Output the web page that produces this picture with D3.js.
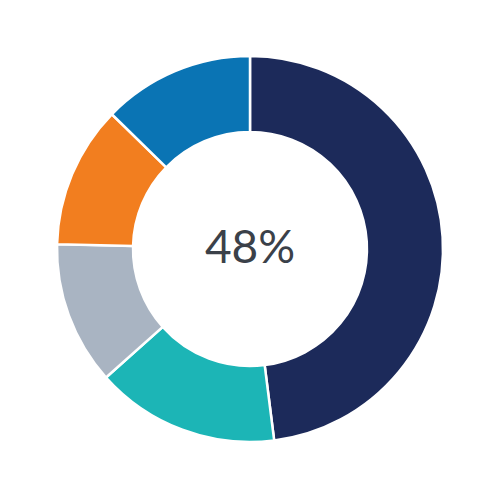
<!DOCTYPE html>
<html>
<head>
<meta charset="utf-8">
<script src="https://cdn.jsdelivr.net/npm/d3@7"></script>
<style>
  body { margin: 0; background: #fff; }
</style>
</head>
<body>
<div id="chart"></div>
<script>
// slices, clockwise from the top
var categories = ["A", "B", "C", "D", "E"];
var values = [48, 15.4, 12, 11.9, 12.7];
var colors = ["#1c2a5a", "#1cb5b6", "#a9b4c2", "#f27e1f", "#0a74b4"];
var centerLabel = "48%";

var width = 500,
    height = 500,
    outer = 193,
    inner = 117;

var svg = d3.select("#chart")
    .append("svg")
    .attr("width", width)
    .attr("height", height)
    .append("g")
    .attr("transform", "translate(250,249)");

var pie = d3.pie()
    .sort(null)
    .value(function(d, i) { return values[i]; });

var arc = d3.arc()
    .innerRadius(inner)
    .outerRadius(outer);

svg.selectAll("path")
    .data(pie(categories))
    .enter()
    .append("path")
    .attr("d", arc)
    .attr("fill", function(d, i) { return colors[i]; })
    .attr("stroke", "#fff")
    .attr("stroke-width", 2.5);

svg.append("text")
    .attr("text-anchor", "middle")
    .attr("y", 14)
    .attr("font-family", "Lato, 'Open Sans', sans-serif")
    .attr("font-weight", 400)
    .attr("font-size", 46)
    .attr("fill", "#3b4149")
    .text(centerLabel);
</script>
</body>
</html>
